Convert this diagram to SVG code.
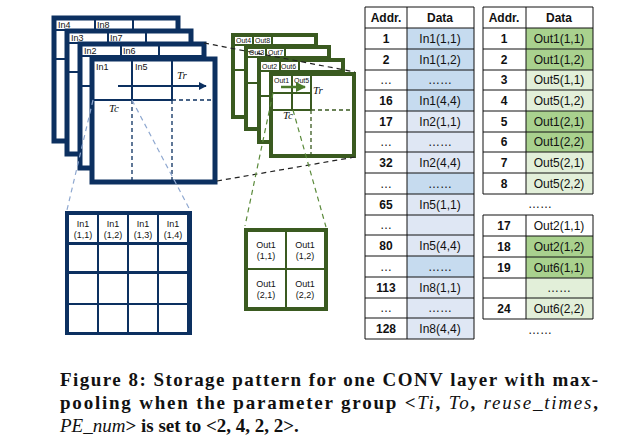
<svg xmlns="http://www.w3.org/2000/svg" width="629" height="444" viewBox="0 0 629 444">
<style>
text{font-family:"Liberation Sans",Arial,sans-serif;fill:#111}
.bf{fill:#fff;stroke:#0c3060;stroke-width:5}
.gf{fill:#fff;stroke:#3a5a20;stroke-width:4}
.bl{stroke:#0c3060;stroke-width:2;fill:none}
.bd{stroke:#0c3060;stroke-width:1.3;stroke-dasharray:4 3;fill:none}
.gl{stroke:#3a5a20;stroke-width:2;fill:none}
.gd{stroke:#3a5a20;stroke-width:1.3;stroke-dasharray:4 3;fill:none}
.lab{font-size:9px}
.sm{font-size:7px}
.it{font-family:"Liberation Serif",serif;font-style:italic;font-size:11px}
.t{stroke:#111;stroke-width:1}
.h{font-size:12px;font-weight:bold;text-anchor:middle}
.a{font-size:12px;font-weight:bold;text-anchor:middle}
.d{font-size:12px;text-anchor:middle}
text.cap{font-family:"Liberation Serif",serif;font-size:19px;font-weight:bold}
.ci{font-weight:normal;font-style:italic}
</style>
<defs>
<marker id="ab" viewBox="0 0 10 10" refX="9" refY="5" markerWidth="4" markerHeight="4" orient="auto"><path d="M0,0L10,5L0,10z" fill="#0c3060"/></marker>
<marker id="ag" viewBox="0 0 10 10" refX="9" refY="5" markerWidth="4" markerHeight="4" orient="auto"><path d="M0,0L10,5L0,10z" fill="#4a7a2a"/></marker>
</defs>
<g id="in-stack">
<g id="in4"><rect class="bf" x="54" y="18" width="124" height="123"/><path class="bl" d="M56,30H176M95,20V30M133,20V30M56,59H93"/><text class="lab" x="58" y="28">In4</text><text class="lab" x="97" y="28">In8</text></g>
<g id="in3"><rect class="bf" x="67" y="31" width="124" height="123"/><path class="bl" d="M69,43H189M108,33V43M146,33V43M69,72H106"/><text class="lab" x="71" y="41">In3</text><text class="lab" x="110" y="41">In7</text></g>
<g id="in2"><rect class="bf" x="80" y="44" width="124" height="124"/><path class="bl" d="M82,56H202M121,46V56M159,46V56M82,86H119"/><text class="lab" x="84" y="54">In2</text><text class="lab" x="123" y="54">In6</text></g>
<g id="in1"><rect class="bf" x="92" y="59" width="123" height="123"/>
<path class="bl" d="M132,61V100M172,61V100M94,100H172"/><path class="bd" d="M132,100V180M172,100V180M172,100H213"/>
<text class="lab" x="96" y="70">In1</text><text class="lab" x="135" y="70">In5</text>
<text class="it" x="177" y="79">Tr</text><text class="it" x="109" y="112">Tc</text>
<line x1="118" y1="86" x2="206" y2="86" stroke="#0c3060" stroke-width="2" marker-end="url(#ab)"/></g>
</g>
<g id="out-stack">
<g id="out4"><rect class="gf" x="233" y="35" width="83" height="82"/><path class="gl" d="M235,45H314M253,37V45M272,37V45M235,70H252"/><text class="sm" x="236" y="43">Out4</text><text class="sm" x="255" y="43">Out8</text></g>
<g id="out3"><rect class="gf" x="246" y="47" width="83" height="82"/><path class="gl" d="M248,57H327M266,49V57M285,49V57M248,83H265"/><text class="sm" x="249" y="55">Out3</text><text class="sm" x="268" y="55">Out7</text></g>
<g id="out2"><rect class="gf" x="259" y="60" width="84" height="82"/><path class="gl" d="M261,71H341M280,62V71M299,62V71M261,96H278"/><text class="sm" x="262" y="69">Out2</text><text class="sm" x="281" y="69">Out6</text></g>
<g id="out1"><rect class="gf" x="271" y="74" width="83" height="82"/>
<path class="gl" d="M311,76V110M292,76V109M273,93H311M273,110H311"/><path class="gd" d="M311,110V154M311,110H352"/>
<text class="sm" x="274" y="83">Out1</text><text class="sm" x="294" y="83">Out5</text>
<text class="it" x="313" y="94">Tr</text><text class="it" x="283" y="119">Tc</text>
<line x1="281" y1="87" x2="305" y2="87" stroke="#4a7a2a" stroke-width="2.5" marker-end="url(#ag)"/></g>
</g>
<g id="connectors">
<path d="M204,43L355,72M217,181L355,157" stroke="#222" stroke-width="1.2" stroke-dasharray="5 4" fill="none"/>
<path d="M93,100L67,210M132,100L191,212" stroke="#8fa8d0" stroke-width="1.2" stroke-dasharray="5 4" fill="none"/>
<path d="M273,93L245,226M293,110L326,227" stroke="#5a8a3a" stroke-width="1.2" stroke-dasharray="5 4" fill="none"/>
</g>
<g id="in-grid">
<rect x="65" y="211" width="127" height="124" fill="#0c3060"/>
<g fill="#fff">
<rect x="69" y="215" width="28" height="27"/><rect x="99" y="215" width="28" height="27"/><rect x="129" y="215" width="28" height="27"/><rect x="159" y="215" width="28" height="27"/>
<rect x="69" y="245" width="28" height="26"/><rect x="99" y="245" width="28" height="26"/><rect x="129" y="245" width="28" height="26"/><rect x="159" y="245" width="28" height="26"/>
<rect x="69" y="274" width="28" height="29"/><rect x="99" y="274" width="28" height="29"/><rect x="129" y="274" width="28" height="29"/><rect x="159" y="274" width="28" height="29"/>
<rect x="69" y="305" width="28" height="27"/><rect x="99" y="305" width="28" height="27"/><rect x="129" y="305" width="28" height="27"/><rect x="159" y="305" width="28" height="27"/>
</g>
<g class="lab" text-anchor="middle">
<text x="83" y="227" text-anchor="middle">In1</text><text x="83" y="238" text-anchor="middle">(1,1)</text>
<text x="113" y="227" text-anchor="middle">In1</text><text x="113" y="238" text-anchor="middle">(1,2)</text>
<text x="143" y="227" text-anchor="middle">In1</text><text x="143" y="238" text-anchor="middle">(1,3)</text>
<text x="173" y="227" text-anchor="middle">In1</text><text x="173" y="238" text-anchor="middle">(1,4)</text>
</g>
</g>
<g id="out-grid">
<rect x="244" y="228" width="84" height="83" fill="#3a5a20"/>
<g fill="#fff"><rect x="248" y="232" width="37" height="36"/><rect x="287" y="232" width="37" height="36"/><rect x="248" y="270" width="37" height="37"/><rect x="287" y="270" width="37" height="37"/></g>
<text class="lab" x="266" y="248" text-anchor="middle">Out1</text><text class="lab" x="266" y="259" text-anchor="middle">(1,1)</text>
<text class="lab" x="305" y="248" text-anchor="middle">Out1</text><text class="lab" x="305" y="259" text-anchor="middle">(1,2)</text>
<text class="lab" x="266" y="287" text-anchor="middle">Out1</text><text class="lab" x="266" y="298" text-anchor="middle">(2,1)</text>
<text class="lab" x="305" y="287" text-anchor="middle">Out1</text><text class="lab" x="305" y="298" text-anchor="middle">(2,2)</text>
</g>
<g id="table-in">
<rect x="407" y="28" width="67" height="83" fill="#c6dbef"/>
<rect x="407" y="111" width="67" height="228" fill="#dfe7f4"/>
<rect x="407" y="173" width="67" height="21" fill="#c6dbef"/>
<rect x="407" y="256" width="67" height="21" fill="#c6dbef"/>
<g class="t">
<path d="M365,7V339M407,7V339M474,7V339M365,7H474M365,28H474M365,49H474M365,70H474M365,90H474M365,111H474M365,132H474M365,152H474M365,173H474M365,194H474M365,215H474M365,235H474M365,256H474M365,277H474M365,298H474M365,318H474M365,339H474"/>
</g>
<text class="h" x="386" y="22">Addr.</text><text class="h" x="440" y="22">Data</text>
<g class="a"><text x="386" y="43">1</text><text x="386" y="64">2</text><text x="386" y="84" font-weight="normal">…</text><text x="386" y="105">16</text><text x="386" y="126">17</text><text x="386" y="146" font-weight="normal">…</text><text x="386" y="167">32</text><text x="386" y="188" font-weight="normal">…</text><text x="386" y="209">65</text><text x="386" y="229" font-weight="normal">…</text><text x="386" y="250">80</text><text x="386" y="271" font-weight="normal">…</text><text x="386" y="292">113</text><text x="386" y="312" font-weight="normal">…</text><text x="386" y="333">128</text></g>
<g class="d"><text x="440" y="43">In1(1,1)</text><text x="440" y="64">In1(1,2)</text><text x="440" y="84">……</text><text x="440" y="105">In1(4,4)</text><text x="440" y="126">In2(1,1)</text><text x="440" y="146">……</text><text x="440" y="167">In2(4,4)</text><text x="440" y="188">……</text><text x="440" y="209">In5(1,1)</text><text x="440" y="271">……</text><text x="440" y="250">In5(4,4)</text><text x="440" y="292">In8(1,1)</text><text x="440" y="312">……</text><text x="440" y="333">In8(4,4)</text></g>
</g>
<g id="table-out">
<rect x="526" y="28" width="67" height="166" fill="#e2efd9"/>
<rect x="526" y="28" width="67" height="42" fill="#a9d18e"/>
<rect x="526" y="111" width="67" height="41" fill="#a9d18e"/>
<rect x="526" y="236" width="67" height="83" fill="#e2efd9"/>
<rect x="526" y="236" width="67" height="42" fill="#a9d18e"/>
<g class="t"><path d="M483,7V194M526,7V194M593,7V194M483,7H593M483,28H593M483,49H593M483,70H593M483,90H593M483,111H593M483,132H593M483,152H593M483,173H593M483,194H593M483,215V319M526,215V319M593,215V319M483,215H593M483,236H593M483,257H593M483,278H593M483,298H593M483,319H593"/></g>
<text class="h" x="504" y="22">Addr.</text><text class="h" x="559" y="22">Data</text>
<g class="a"><text x="504" y="43">1</text><text x="504" y="64">2</text><text x="504" y="84">3</text><text x="504" y="105">4</text><text x="504" y="126">5</text><text x="504" y="146">6</text><text x="504" y="167">7</text><text x="504" y="188">8</text><text x="504" y="230">17</text><text x="504" y="251">18</text><text x="504" y="272">19</text><text x="504" y="313">24</text></g>
<g class="d"><text x="559" y="43">Out1(1,1)</text><text x="559" y="64">Out1(1,2)</text><text x="559" y="84">Out5(1,1)</text><text x="559" y="105">Out5(1,2)</text><text x="559" y="126">Out1(2,1)</text><text x="559" y="146">Out1(2,2)</text><text x="559" y="167">Out5(2,1)</text><text x="559" y="188">Out5(2,2)</text><text x="540" y="208">……</text><text x="559" y="230">Out2(1,1)</text><text x="559" y="251">Out2(1,2)</text><text x="559" y="272">Out6(1,1)</text><text x="559" y="292">……</text><text x="559" y="313">Out6(2,2)</text><text x="540" y="334">……</text></g>
</g>
<g id="caption">
<text class="cap" x="60" y="386" textLength="538" lengthAdjust="spacing">Figure 8:  Storage pattern for one CONV layer with max-</text>
<text class="cap" x="60" y="409" textLength="538" lengthAdjust="spacing">pooling when the parameter group &lt;<tspan class="ci">Ti</tspan>, <tspan class="ci">To</tspan>, <tspan class="ci">reuse_times</tspan>,</text>
<text class="cap" x="60" y="432"><tspan class="ci">PE_num</tspan>&gt; is set to &lt;2, 4, 2, 2&gt;.</text>
</g>
</svg>
